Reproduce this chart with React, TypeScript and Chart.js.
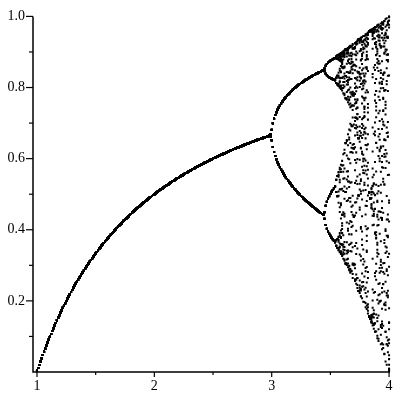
import React, { useEffect, useRef } from "react";
import { Chart, registerables } from "chart.js";

Chart.register(...registerables);

// Logistic map bifurcation diagram: parameter range and sampling
const rFirst = 1.0;
const rLast = 4.0;
const rSteps = 300;
const transientIterations = 200;
const plottedIterations = 28;
const startValue = 0.3;

const xTickValues = [1, 2, 3, 4];
const xMinorTickValues = [1.5, 2.5, 3.5];
const yTickValues = [0.2, 0.4, 0.6, 0.8, 1.0];
const yMinorTickValues = [0.1, 0.3, 0.5, 0.7, 0.9];

const xAxisMin = 0.966;
const xAxisMax = 4.008;
const yAxisMin = 0;
const yAxisMax = 1;

function buildAttractor() {
  const pts: { x: number; y: number }[] = [];
  for (let i = 0; i <= rSteps; i++) {
    const r = rFirst + ((rLast - rFirst) * i) / rSteps;
    let v = startValue;
    for (let k = 0; k < transientIterations; k++) v = r * v * (1 - v);
    for (let k = 0; k < plottedIterations; k++) {
      v = r * v * (1 - v);
      pts.push({ x: r, y: v });
    }
  }
  return pts;
}

const FONT = { family: "'Liberation Serif', 'Times New Roman', serif", size: 14 };

const axesPlugin = {
  id: "mapleAxes",
  afterDatasetsDraw(chart: any) {
    const { ctx, chartArea, scales } = chart;
    const xs = scales.x;
    const ys = scales.y;
    const x0 = chartArea.left;
    const y0 = chartArea.bottom;
    ctx.save();
    ctx.strokeStyle = "#000";
    ctx.lineWidth = 1.5;
    ctx.beginPath();
    ctx.moveTo(x0, chartArea.top);
    ctx.lineTo(x0, y0);
    ctx.lineTo(chartArea.right, y0);
    ctx.stroke();
    ctx.lineWidth = 1.2;
    const seg = (a: number, b: number, c: number, d: number) => {
      ctx.beginPath();
      ctx.moveTo(a, b);
      ctx.lineTo(c, d);
      ctx.stroke();
    };
    yTickValues.forEach((v) => {
      const py = ys.getPixelForValue(v);
      seg(x0 - 7, py, x0, py);
    });
    yMinorTickValues.forEach((v) => {
      const py = ys.getPixelForValue(v);
      seg(x0 - 4, py, x0, py);
    });
    xTickValues.forEach((v) => {
      const px = xs.getPixelForValue(v);
      seg(px, y0, px, y0 + 5);
    });
    xMinorTickValues.forEach((v) => {
      const px = xs.getPixelForValue(v);
      seg(px, y0, px, y0 + 3);
    });
    ctx.restore();
  },
};

export default function App() {
  const canvasRef = useRef<HTMLCanvasElement | null>(null);

  useEffect(() => {
    document.body.style.margin = "0";
    const canvas = canvasRef.current;
    if (!canvas) return;
    const chart = new Chart(canvas, {
      type: "scatter",
      data: {
        datasets: [
          {
            data: buildAttractor(),
            pointStyle: "rect",
            pointRadius: 1.42,
            pointBorderWidth: 0,
            backgroundColor: "#000",
            borderColor: "#000",
            clip: 4,
          } as any,
        ],
      },
      options: {
        animation: false,
        responsive: false,
        devicePixelRatio: 1,
        layout: { padding: { top: 14, right: 10, left: 0, bottom: 0 } },
        plugins: { legend: { display: false }, tooltip: { enabled: false } },
        scales: {
          x: {
            type: "linear",
            min: xAxisMin,
            max: xAxisMax,
            afterBuildTicks: (s: any) => {
              s.ticks = xTickValues.map((v) => ({ value: v }));
            },
            afterFit: (s: any) => {
              s.height = 28;
            },
            ticks: {
              font: FONT,
              color: "#000",
              padding: 6,
              maxRotation: 0,
              callback: (v: any) => String(v),
            },
            grid: { display: false, drawTicks: false },
            border: { display: false },
          },
          y: {
            type: "linear",
            min: yAxisMin,
            max: yAxisMax,
            afterBuildTicks: (s: any) => {
              s.ticks = yTickValues.map((v) => ({ value: v }));
            },
            afterFit: (s: any) => {
              s.width = 33;
            },
            ticks: {
              font: FONT,
              color: "#000",
              padding: 8,
              callback: (v: any) => Number(v).toFixed(1),
            },
            grid: { display: false, drawTicks: false },
            border: { display: false },
          },
        },
      },
      plugins: [axesPlugin],
    });
    return () => chart.destroy();
  }, []);

  return (
    <canvas
      ref={canvasRef}
      width={400}
      height={400}
      style={{ display: "block", width: 400, height: 400 }}
    />
  );
}
